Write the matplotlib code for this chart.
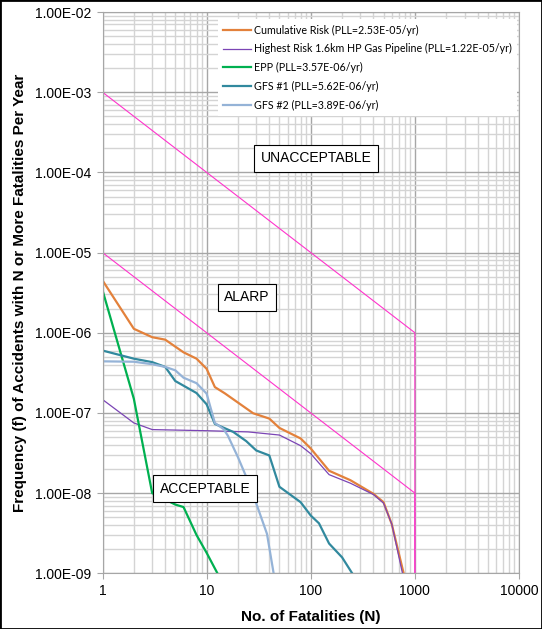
import matplotlib
matplotlib.use('Agg')
import matplotlib.pyplot as plt
from matplotlib.ticker import FixedLocator, FuncFormatter, NullFormatter, LogLocator
from matplotlib.patches import Rectangle

plt.rcParams['font.family'] = ['Liberation Sans', 'DejaVu Sans']

# F-N curve data
cum_n = [1, 2, 3, 4, 6, 8, 10, 12, 15, 28, 40, 50, 80, 100, 150, 240, 400, 500, 600, 780]
cum_f = [4.5e-6, 1.12e-6, 8.8e-7, 8.2e-7, 5.7e-7, 4.75e-7, 3.55e-7, 2.1e-7, 1.75e-7, 9.9e-8,
         8.5e-8, 6.5e-8, 4.8e-8, 3.6e-8, 1.9e-8, 1.45e-8, 9.8e-9, 7.7e-9, 4.1e-9, 1e-9]

pipe_n = [1, 2, 3, 10, 25, 50, 80, 100, 150, 240, 400, 500, 600, 760]
pipe_f = [1.47e-7, 7.5e-8, 6.2e-8, 6.0e-8, 5.8e-8, 5.3e-8, 3.9e-8, 3.1e-8, 1.7e-8, 1.33e-8,
          9.6e-9, 7.5e-9, 4.1e-9, 1e-9]

epp_n = [1, 2, 3, 5, 6, 8, 10, 12.7]
epp_f = [3.4e-6, 1.5e-7, 1.0e-8, 7.2e-9, 6.7e-9, 3.0e-9, 1.8e-9, 1e-9]

gfs1_n = [1, 2, 3, 4, 5, 8, 10, 12, 18, 24, 30, 40, 50, 80, 100, 120, 150, 200, 250]
gfs1_f = [6.0e-7, 4.75e-7, 4.3e-7, 3.75e-7, 2.5e-7, 1.77e-7, 1.28e-7, 7.3e-8, 5.8e-8, 4.45e-8,
          3.4e-8, 2.95e-8, 1.2e-8, 7.7e-9, 5.25e-9, 4.2e-9, 2.35e-9, 1.58e-9, 1e-9]

gfs2_n = [1, 2, 3, 4, 5, 6, 8, 10, 12, 14.5, 16, 20, 24, 30, 38, 44]
gfs2_f = [4.4e-7, 4.35e-7, 4.05e-7, 3.75e-7, 3.4e-7, 2.75e-7, 2.35e-7, 1.74e-7, 7.5e-8, 6.3e-8,
          5.2e-8, 2.8e-8, 1.6e-8, 7.4e-9, 3.1e-9, 1e-9]

# criterion lines
upper_n = [1, 1000, 1000]
upper_f = [1e-3, 1e-6, 1e-9]
lower_n = [1, 1000, 1000]
lower_f = [1e-5, 1e-8, 1e-9]

labels = ['Cumulative Risk (PLL=2.53E-05/yr)',
          'Highest Risk 1.6km HP Gas Pipeline (PLL=1.22E-05/yr)',
          'EPP (PLL=3.57E-06/yr)',
          'GFS #1 (PLL=5.62E-06/yr)',
          'GFS #2 (PLL=3.89E-06/yr)']

fig = plt.figure(figsize=(5.42, 6.29), dpi=100)
ax = fig.add_axes([102.5/542, 1 - 573.3/629, (519 - 102.5)/542, (573.3 - 12)/629])

ax.set_xscale('log')
ax.set_yscale('log')
ax.set_xlim(1, 10000)
ax.set_ylim(1e-9, 1e-2)

ax.grid(which='major', color='#a6a6a6', linewidth=1.0)
ax.grid(which='minor', color='#d4d4d4', linewidth=1.0)
ax.set_axisbelow(True)
ax.xaxis.set_minor_locator(LogLocator(base=10, subs=range(2, 10)))
ax.yaxis.set_minor_locator(LogLocator(base=10, subs=range(2, 10)))
ax.xaxis.set_minor_formatter(NullFormatter())
ax.yaxis.set_minor_formatter(NullFormatter())
ax.xaxis.set_major_locator(FixedLocator([1, 10, 100, 1000, 10000]))
ax.xaxis.set_major_formatter(FuncFormatter(lambda v, p: '%d' % round(v)))
ax.yaxis.set_major_locator(FixedLocator([10.0**k for k in range(-9, -1)]))
ax.yaxis.set_major_formatter(FuncFormatter(lambda v, p: '%.2E' % v))
ax.tick_params(which='major', length=4, color='#a6a6a6', labelsize=10, pad=4)
ax.tick_params(which='minor', length=0)
for s in ax.spines.values():
    s.set_color('#a6a6a6')

magenta = '#FF33CC'
ax.plot(upper_n, upper_f, color=magenta, lw=0.8)
ax.plot(lower_n, lower_f, color=magenta, lw=0.8)

h1, = ax.plot(cum_n, cum_f, color='#E3813B', lw=1.6)
h2, = ax.plot(pipe_n, pipe_f, color='#7B45B5', lw=0.9)
h3, = ax.plot(epp_n, epp_f, color='#00B050', lw=1.6)
h4, = ax.plot(gfs1_n, gfs1_f, color='#31899E', lw=1.6)
h5, = ax.plot(gfs2_n, gfs2_f, color='#95B3D7', lw=1.6)

box = dict(boxstyle='square,pad=0.45', facecolor='white', edgecolor='black', linewidth=0.8)
ax.text(112, 1.5e-4, 'UNACCEPTABLE', ha='center', va='center', fontsize=10, bbox=box, zorder=5)
ax.text(24.4, 2.77e-6, 'ALARP', ha='center', va='center', fontsize=10, bbox=box, zorder=5)
ax.text(9.66, 1.14e-8, 'ACCEPTABLE', ha='center', va='center', fontsize=10, bbox=box, zorder=5)

leg = ax.legend([h1, h2, h3, h4, h5], labels, loc='upper right',
                bbox_to_anchor=(1.0, 0.99), prop={'family': 'Lato', 'size': 7.7},
                frameon=True, fancybox=False, framealpha=1, facecolor='white',
                edgecolor='none', handlelength=2.6, handletextpad=0.3,
                labelspacing=0.72, borderpad=0.5, borderaxespad=0.15)
leg.set_zorder(10)

ax.set_xlabel('No. of Fatalities (N)', fontsize=11, fontweight='bold', labelpad=8)
ax.set_ylabel('Frequency (f) of Accidents with N or More Fatalities Per Year',
              fontsize=11, fontweight='bold', labelpad=6)

fig.patches.append(Rectangle((0, 0), 1, 1, transform=fig.transFigure, fill=False,
                             edgecolor='black', linewidth=2))

fig.savefig('out.png', dpi=100)
